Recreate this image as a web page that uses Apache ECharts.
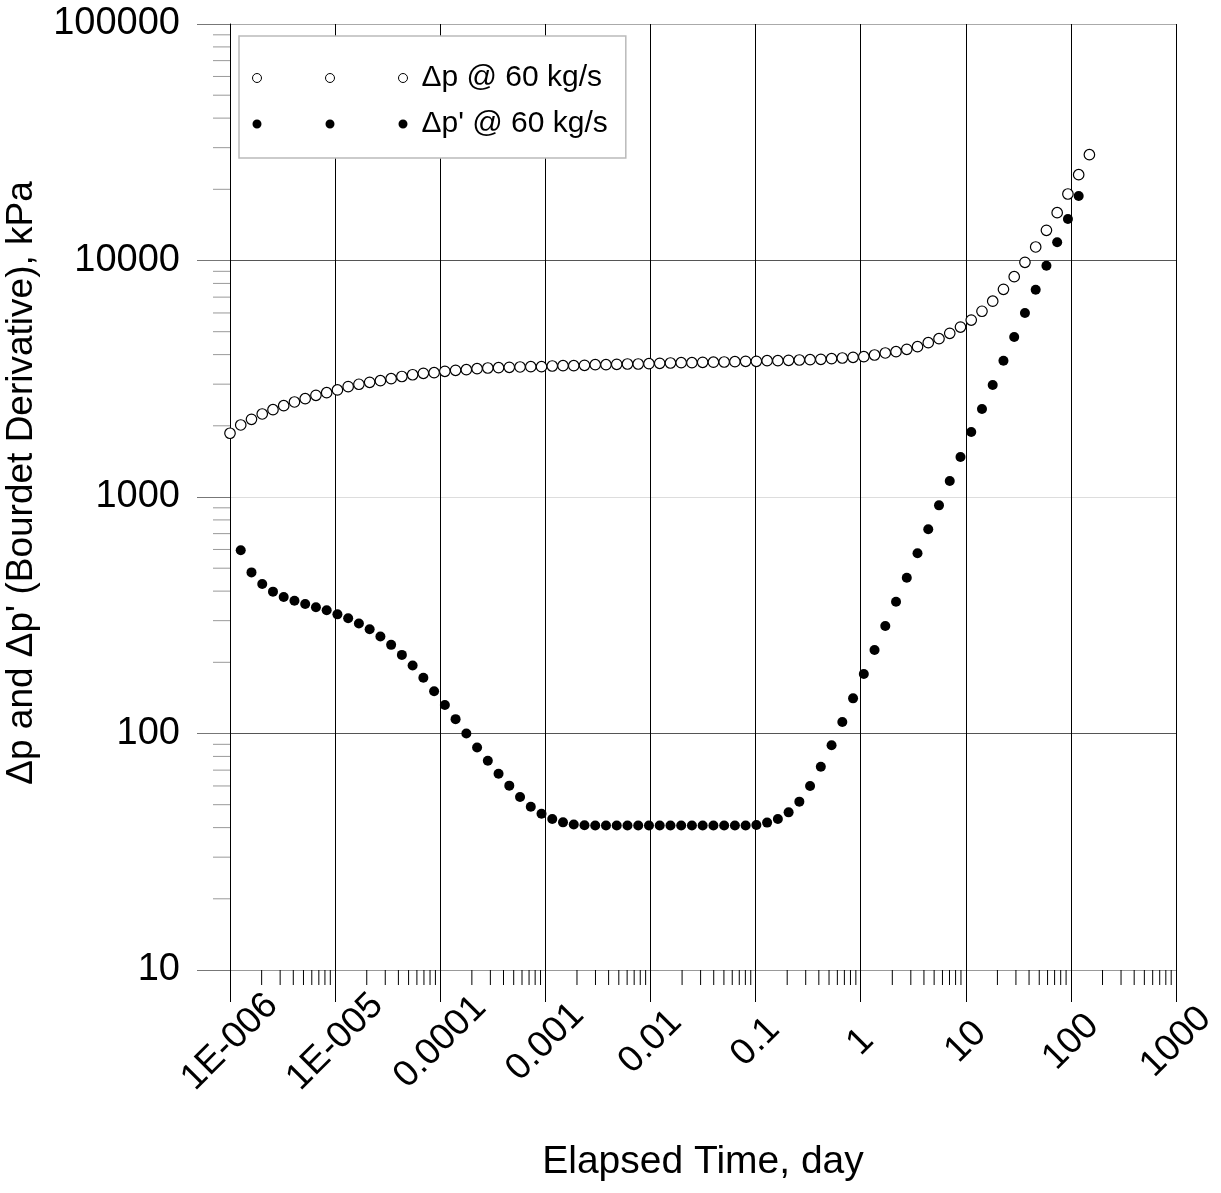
<!DOCTYPE html>
<html>
<head>
<meta charset="utf-8">
<title>Δp and Bourdet derivative</title>
<script src="https://cdn.jsdelivr.net/npm/echarts@6/dist/echarts.min.js"></script>
<style>
  html, body { margin: 0; padding: 0; background: #fff; }
  #chart { width: 1221px; height: 1193px; }
</style>
</head>
<body>
<div id="chart"></div>
<script>
// elapsed time of each sample, day
const elapsedDays = [
  1.000e-6, 1.265e-6, 1.601e-6, 2.026e-6, 2.564e-6, 3.243e-6, 4.104e-6, 5.193e-6, 6.571e-6, 8.313e-6,
  1.052e-5, 1.331e-5, 1.684e-5, 2.131e-5, 2.697e-5, 3.412e-5, 4.317e-5, 5.463e-5, 6.912e-5, 8.746e-5,
  1.107e-4, 1.400e-4, 1.772e-4, 2.242e-4, 2.837e-4, 3.589e-4, 4.541e-4, 5.746e-4, 7.271e-4, 9.200e-4,
  1.164e-3, 1.473e-3, 1.864e-3, 2.358e-3, 2.984e-3, 3.776e-3, 4.777e-3, 6.045e-3, 7.649e-3, 9.678e-3,
  1.225e-2, 1.550e-2, 1.961e-2, 2.481e-2, 3.139e-2, 3.972e-2, 5.026e-2, 6.360e-2, 8.047e-2, 0.1018,
  0.1288, 0.1630, 0.2063, 0.2610, 0.3302, 0.4178, 0.5287, 0.6690, 0.8465, 1.071,
  1.355, 1.715, 2.170, 2.746, 3.474, 4.396, 5.562, 7.038, 8.906, 11.27,
  14.26, 18.04, 22.83, 28.89, 36.55, 46.25, 58.52, 74.05, 93.70, 118.6,
  150.0
];

// pressure change Δp, kPa
const deltaP = [
  1860, 2016, 2131, 2244, 2340, 2432, 2522, 2604, 2692, 2761,
  2835, 2928, 2997, 3055, 3103, 3164, 3232, 3288, 3334, 3354,
  3400, 3433, 3453, 3487, 3511, 3521, 3535, 3546, 3556, 3556,
  3580, 3591, 3591, 3605, 3626, 3626, 3640, 3651, 3651, 3661,
  3676, 3686, 3697, 3697, 3711, 3716, 3722, 3733, 3748, 3748,
  3770, 3770, 3784, 3796, 3806, 3821, 3844, 3870, 3897, 3919,
  3985, 4064, 4116, 4213, 4321, 4493, 4671, 4923, 5230, 5600,
  6100, 6730, 7553, 8541, 9826, 11406, 13420, 15925, 19105, 23060,
  28020
];

// Bourdet derivative Δp', kPa (no value at the first and last sample)
const deltaPDeriv = [
  null, 595, 480, 429, 398, 378, 364, 353, 342, 332,
  319, 307, 292, 276, 257, 237, 215, 194, 172, 151,
  132, 115, 100, 87.3, 76.7, 67.6, 60.2, 53.9, 49.0, 45.8,
  43.5, 42.1, 41.2, 40.9, 40.8, 40.8, 40.8, 40.8, 40.8, 40.8,
  40.8, 40.8, 40.8, 40.8, 40.8, 40.8, 40.8, 40.8, 40.8, 41.0,
  42.0, 43.5, 46.4, 51.5, 60.0, 72.4, 89.2, 111.8, 140.8, 178.5,
  225.5, 284.8, 360.8, 455.9, 578, 730, 922, 1169, 1476, 1883,
  2356, 2976, 3770, 4748, 5998, 7523, 9506, 11937, 14979, 18735,
  null
];

const xTickLabels = ['1E-006', '1E-005', '0.0001', '0.001', '0.01', '0.1', '1', '10', '100', '1000'];
const yTickLabels = ['10', '100', '1000', '10000', '100000'];
const minorSteps = [2, 3, 4, 5, 6, 7, 8, 9];
const xDecades = [1e-6, 1e-5, 1e-4, 1e-3, 1e-2, 1e-1, 1, 10, 100];
const yDecades = [10, 100, 1000, 10000];

const font = "'Liberation Sans', Arial, Helvetica, sans-serif";
const seriesNames = ['Δp @ 60 kg/s', "Δp' @ 60 kg/s"];

const dpPoints = elapsedDays.map((t, i) => [t, deltaP[i]]);
const derivPoints = [];
elapsedDays.forEach((t, i) => {
  if (deltaPDeriv[i] != null) derivPoints.push([t, deltaPDeriv[i]]);
});

// minor tick positions (2..9 inside each decade)
const xMinor = [];
xDecades.forEach(d => minorSteps.forEach(m => xMinor.push([m * d, 10])));
const yMinor = [];
yDecades.forEach(d => minorSteps.forEach(m => yMinor.push([1e-6, m * d])));

const chart = echarts.init(document.getElementById('chart'));
const option = {
  animation: false,
  backgroundColor: '#fff',
  textStyle: { fontFamily: font },
  grid: { left: 230, right: 45, top: 24, bottom: 223, outerBoundsMode: 'none' },
  legend: {
    left: 239,
    top: 36,
    orient: 'vertical',
    selectedMode: false,
    padding: [26, 18, 18, 13],
    borderColor: '#bbb',
    borderWidth: 1.5,
    backgroundColor: '#fff',
    itemWidth: 155,
    itemHeight: 9,
    itemGap: 14,
    icon: 'path://M0,4.5a4.5,4.5 0 1,0 9,0a4.5,4.5 0 1,0 -9,0M73,4.5a4.5,4.5 0 1,0 9,0a4.5,4.5 0 1,0 -9,0M146,4.5a4.5,4.5 0 1,0 9,0a4.5,4.5 0 1,0 -9,0Z',
    textStyle: { fontSize: 30, lineHeight: 32, color: '#000', fontFamily: font, padding: [0, 0, 0, 9] },
    data: [
      { name: seriesNames[0], itemStyle: { color: '#fff', borderColor: '#000', borderWidth: 1 } },
      { name: seriesNames[1], itemStyle: { color: '#000', borderWidth: 0 } }
    ]
  },
  xAxis: {
    type: 'log',
    logBase: 10,
    min: 1e-6,
    max: 1000,
    splitNumber: 9,
    name: 'Elapsed Time, day',
    nameLocation: 'middle',
    nameGap: 192,
    nameMoveOverlap: false,
    nameTextStyle: { fontSize: 39, color: '#000', verticalAlign: 'middle', fontFamily: font },
    axisLine: { show: true, lineStyle: { color: '#999', width: 1 } },
    axisTick: { show: true, length: 32, lineStyle: { color: '#000', width: 1 } },
    axisLabel: {
      rotate: 45,
      margin: 72,
      align: 'center',
      verticalAlign: 'middle',
      fontSize: 37,
      color: '#000',
      showMinLabel: true,
      showMaxLabel: true,
      formatter: v => xTickLabels[Math.round(Math.log10(v)) + 6]
    },
    splitLine: { show: true, lineStyle: { color: '#000', width: 1 } }
  },
  yAxis: {
    type: 'log',
    logBase: 10,
    min: 10,
    max: 100000,
    splitNumber: 4,
    name: "Δp and Δp' (Bourdet Derivative), kPa",
    nameLocation: 'middle',
    nameGap: 208,
    nameMoveOverlap: false,
    nameTextStyle: { fontSize: 37, color: '#000', verticalAlign: 'middle', fontFamily: font, padding: [0, 0, 0, 28] },
    axisLine: { show: true, lineStyle: { color: '#000', width: 1 } },
    axisTick: { show: true, length: 33, lineStyle: { color: '#777', width: 1 } },
    axisLabel: {
      margin: 50,
      fontSize: 38,
      color: '#000',
      showMinLabel: true,
      showMaxLabel: true,
      formatter: v => yTickLabels[Math.round(Math.log10(v)) - 1]
    },
    splitLine: { show: true, lineStyle: { color: ['#999', '#555', '#ddd', '#555', '#aaa'], width: 1 } }
  },
  series: [
    {
      name: seriesNames[0],
      type: 'scatter',
      data: dpPoints,
      symbol: 'circle',
      symbolSize: 10.5,
      itemStyle: { color: '#fff', borderColor: '#000', borderWidth: 1.2, opacity: 1 },
      z: 5
    },
    {
      name: seriesNames[1],
      type: 'scatter',
      data: derivPoints,
      symbol: 'circle',
      symbolSize: 10,
      itemStyle: { color: '#000', opacity: 1 },
      z: 6
    },
    {
      type: 'custom',
      name: 'xMinorTicks',
      silent: true,
      clip: false,
      data: xMinor,
      renderItem: (params, api) => {
        const p = api.coord([api.value(0), api.value(1)]);
        return {
          type: 'line',
          shape: { x1: p[0], y1: p[1], x2: p[0], y2: p[1] + 15 },
          style: { stroke: '#000', lineWidth: 1 }
        };
      },
      z: 1
    },
    {
      type: 'custom',
      name: 'yMinorTicks',
      silent: true,
      clip: false,
      data: yMinor,
      renderItem: (params, api) => {
        const p = api.coord([api.value(0), api.value(1)]);
        return {
          type: 'line',
          shape: { x1: p[0] - 17, y1: p[1], x2: p[0], y2: p[1] },
          style: { stroke: '#999', lineWidth: 1 }
        };
      },
      z: 1
    }
  ]
};
chart.setOption(option);
window.addEventListener('resize', () => chart.resize());
</script>
</body>
</html>
